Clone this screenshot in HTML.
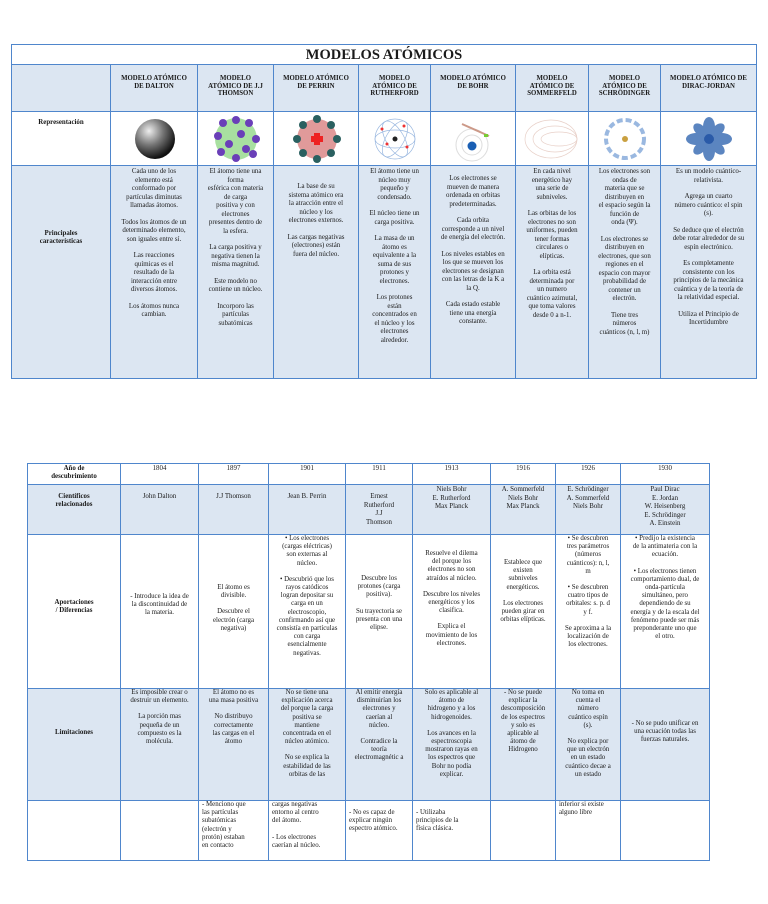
<!DOCTYPE html>
<html><head><meta charset="utf-8"><style>
body{margin:0;width:768px;height:904px;background:#fff;position:relative;overflow:hidden;font-family:"Liberation Serif",serif;color:#1a1a1a}
.c{position:absolute;box-sizing:border-box;border:1.5px solid #4f86cc;font-size:6.9px;line-height:8.5px;text-align:center;padding:2px 3px;overflow:hidden}
.b{background:#dce6f2}
.h{font-weight:bold;font-size:6.8px;line-height:7.6px;padding-top:10px}
p{margin:0 0 8px 0}
.s{line-height:8.2px}
</style></head><body>
<!-- TOP TABLE -->
<div class="c" style="left:11px;top:44px;width:746px;height:21px;font-size:14.5px;font-weight:bold;line-height:17px;">MODELOS ATÓMICOS</div>
<div class="c b" style="left:11px;top:64px;width:100px;height:48px"></div>
<div class="c b h" style="left:110px;top:64px;width:88px;height:48px">MODELO ATÓMICO<br>DE DALTON</div>
<div class="c b h" style="left:197px;top:64px;width:77px;height:48px">MODELO<br>ATÓMICO DE J.J<br>THOMSON</div>
<div class="c b h" style="left:273px;top:64px;width:86px;height:48px">MODELO ATÓMICO<br>DE PERRIN</div>
<div class="c b h" style="left:358px;top:64px;width:73px;height:48px">MODELO<br>ATÓMICO DE<br>RUTHERFORD</div>
<div class="c b h" style="left:430px;top:64px;width:86px;height:48px">MODELO ATÓMICO<br>DE BOHR</div>
<div class="c b h" style="left:515px;top:64px;width:74px;height:48px">MODELO<br>ATÓMICO DE<br>SOMMERFELD</div>
<div class="c b h" style="left:588px;top:64px;width:73px;height:48px">MODELO<br>ATÓMICO DE<br>SCHRÖDINGER</div>
<div class="c b h" style="left:660px;top:64px;width:97px;height:48px">MODELO ATÓMICO DE<br>DIRAC-JORDAN</div>

<div class="c" style="left:11px;top:111px;width:100px;height:55px;font-weight:bold;padding-top:7px">Representación</div>
<div class="c" style="left:110px;top:111px;width:88px;height:55px"><svg width="82" height="50"><defs><radialGradient id="g1" cx="35%" cy="30%" r="70%"><stop offset="0" stop-color="#eee"/><stop offset="0.5" stop-color="#777"/><stop offset="1" stop-color="#111"/></radialGradient></defs><circle cx="41" cy="25" r="20" fill="url(#g1)"/></svg></div>
<div class="c" style="left:197px;top:111px;width:77px;height:55px"><svg width="71" height="50"><circle cx="35" cy="25" r="21" fill="#a8e0a0"/><g fill="#6a3fb8"><circle cx="22" cy="9" r="4"/><circle cx="35" cy="6" r="4"/><circle cx="48" cy="9" r="4"/><circle cx="17" cy="22" r="4"/><circle cx="40" cy="20" r="4"/><circle cx="55" cy="25" r="4"/><circle cx="28" cy="30" r="4"/><circle cx="45" cy="35" r="4"/><circle cx="20" cy="38" r="4"/><circle cx="35" cy="44" r="4"/><circle cx="52" cy="40" r="4"/></g></svg></div>
<div class="c" style="left:273px;top:111px;width:86px;height:55px"><svg width="80" height="50"><circle cx="40" cy="25" r="20" fill="#e09a9a"/><rect x="37" y="19" width="6" height="12" fill="#e22"/><rect x="34" y="22" width="12" height="6" fill="#e22"/><g fill="#2a6060"><circle cx="40" cy="5" r="4"/><circle cx="54" cy="11" r="4"/><circle cx="60" cy="25" r="4"/><circle cx="54" cy="39" r="4"/><circle cx="40" cy="45" r="4"/><circle cx="26" cy="39" r="4"/><circle cx="20" cy="25" r="4"/><circle cx="26" cy="11" r="4"/></g></svg></div>
<div class="c" style="left:358px;top:111px;width:73px;height:55px"><svg width="67" height="50"><g fill="none" stroke="#9ab8e0" stroke-width="0.7"><ellipse cx="33" cy="25" rx="20" ry="9"/><ellipse cx="33" cy="25" rx="20" ry="9" transform="rotate(60 33 25)"/><ellipse cx="33" cy="25" rx="20" ry="9" transform="rotate(-60 33 25)"/><circle cx="33" cy="25" r="20"/></g><circle cx="33" cy="25" r="2.5" fill="#222"/><g fill="#e33"><circle cx="20" cy="15" r="1.5"/><circle cx="25" cy="30" r="1.5"/><circle cx="45" cy="33" r="1.5"/><circle cx="42" cy="12" r="1.5"/></g></svg></div>
<div class="c" style="left:430px;top:111px;width:86px;height:55px"><svg width="80" height="50"><g fill="none" stroke="#ddd"><circle cx="38" cy="31" r="10"/><circle cx="38" cy="31" r="16"/></g><line x1="28" y1="10" x2="55" y2="22" stroke="#c98" stroke-width="2"/><circle cx="38" cy="32" r="4.5" fill="#1a5fb4"/><rect x="50" y="20" width="4" height="3" fill="#7c3"/></svg></div>
<div class="c" style="left:515px;top:111px;width:74px;height:55px"><svg width="68" height="50"><g fill="none" stroke="#e8d0c8" stroke-width="0.7"><ellipse cx="32" cy="25" rx="26" ry="19"/><ellipse cx="36" cy="25" rx="22" ry="13"/><ellipse cx="40" cy="25" rx="18" ry="7"/></g></svg></div>
<div class="c" style="left:588px;top:111px;width:73px;height:55px"><svg width="67" height="50"><circle cx="33" cy="25" r="19" fill="none" stroke="#9ab8e0" stroke-width="4" stroke-dasharray="6 3"/><circle cx="33" cy="25" r="3" fill="#c9a040"/></svg></div>
<div class="c" style="left:660px;top:111px;width:97px;height:55px"><svg width="91" height="50"><g fill="#5b85c0"><ellipse cx="45" cy="13" rx="6" ry="10"/><ellipse cx="45" cy="37" rx="6" ry="10"/><ellipse cx="32" cy="25" rx="10" ry="6"/><ellipse cx="58" cy="25" rx="10" ry="6"/><ellipse cx="36" cy="16" rx="5" ry="8" transform="rotate(-45 36 16)"/><ellipse cx="54" cy="34" rx="5" ry="8" transform="rotate(-45 54 34)"/><ellipse cx="54" cy="16" rx="5" ry="8" transform="rotate(45 54 16)"/><ellipse cx="36" cy="34" rx="5" ry="8" transform="rotate(45 36 34)"/></g><circle cx="45" cy="25" r="5" fill="#2a5aa8"/></svg></div>

<div class="c b" style="left:11px;top:165px;width:100px;height:214px;font-weight:bold;padding-top:64px;line-height:8px">Principales<br>características</div>
<div class="c b" style="left:110px;top:165px;width:88px;height:214px"><p>Cada uno de los<br>elemento está<br>conformado por<br>partículas diminutas<br>llamadas átomos.</p><p>Todos los átomos de un<br>determinado elemento,<br>son iguales entre sí.</p><p>Las reacciones<br>químicas es el<br>resultado de la<br>interacción entre<br>diversos átomos.</p><p>Los átomos nunca<br>cambian.</p></div>
<div class="c b" style="left:197px;top:165px;width:77px;height:214px"><p>El átomo tiene una<br>forma<br>esférica con materia<br>de carga<br>positiva y con<br>electrones<br>presentes dentro de<br>la esfera.</p><p>La carga positiva y<br>negativa tienen la<br>misma magnitud.</p><p>Este modelo no<br>contiene un núcleo.</p><p>Incorporo las<br>partículas<br>subatómicas</p></div>
<div class="c b" style="left:273px;top:165px;width:86px;height:214px;padding-top:17px"><p>La base de su<br>sistema atómico era<br>la atracción entre el<br>núcleo y los<br>electrones externos.</p><p>Las cargas negativas<br>(electrones) están<br>fuera del núcleo.</p></div>
<div class="c b" style="left:358px;top:165px;width:73px;height:214px"><p>El átomo tiene un<br>núcleo muy<br>pequeño y<br>condensado.</p><p>El núcleo tiene un<br>carga positiva.</p><p>La masa de un<br>átomo es<br>equivalente a la<br>suma de sus<br>protones y<br>electrones.</p><p>Los protones<br>están<br>concentrados en<br>el núcleo y los<br>electrones<br>alrededor.</p></div>
<div class="c b" style="left:430px;top:165px;width:86px;height:214px;padding-top:9px"><p>Los electrones se<br>mueven de manera<br>ordenada en orbitas<br>predeterminadas.</p><p>Cada orbita<br>corresponde a un nivel<br>de energía del electrón.</p><p>Los niveles estables en<br>los que se mueven los<br>electrones se designan<br>con las letras de la K a<br>la Q.</p><p>Cada estado estable<br>tiene una energía<br>constante.</p></div>
<div class="c b" style="left:515px;top:165px;width:74px;height:214px"><p>En cada nivel<br>energético hay<br>una serie de<br>subniveles.</p><p>Las orbitas de los<br>electrones no son<br>uniformes, pueden<br>tener formas<br>circulares o<br>elípticas.</p><p>La orbita está<br>determinada por<br>un numero<br>cuántico azimutal,<br>que toma valores<br>desde 0 a n-1.</p></div>
<div class="c b" style="left:588px;top:165px;width:73px;height:214px"><p>Los electrones son<br>ondas de<br>materia que se<br>distribuyen en<br>el espacio según la<br>función de<br>onda (Ψ).</p><p>Los electrones se<br>distribuyen en<br>electrones, que son<br>regiones en el<br>espacio con mayor<br>probabilidad de<br>contener un<br>electrón.</p><p>Tiene tres<br>números<br>cuánticos (n, l, m)</p></div>
<div class="c b" style="left:660px;top:165px;width:97px;height:214px"><p>Es un modelo cuántico-<br>relativista.</p><p>Agrega un cuarto<br>número cuántico: el spin<br>(s).</p><p>Se deduce que el electrón<br>debe rotar alrededor de su<br>espín electrónico.</p><p>Es completamente<br>consistente con los<br>principios de la mecánica<br>cuántica y de la teoría de<br>la relatividad especial.</p><p>Utiliza el Principio de<br>Incertidumbre</p></div>

<!-- BOTTOM TABLE -->
<div class="c" style="left:27px;top:463px;width:94px;height:22px;font-weight:bold;padding-top:1px;line-height:7.5px">Año de<br>descubrimiento</div>
<div class="c" style="left:120px;top:463px;width:79px;height:22px;padding-top:1px">1804</div>
<div class="c" style="left:198px;top:463px;width:71px;height:22px;padding-top:1px">1897</div>
<div class="c" style="left:268px;top:463px;width:78px;height:22px;padding-top:1px">1901</div>
<div class="c" style="left:345px;top:463px;width:68px;height:22px;padding-top:1px">1911</div>
<div class="c" style="left:412px;top:463px;width:79px;height:22px;padding-top:1px">1913</div>
<div class="c" style="left:490px;top:463px;width:66px;height:22px;padding-top:1px">1916</div>
<div class="c" style="left:555px;top:463px;width:66px;height:22px;padding-top:1px">1926</div>
<div class="c" style="left:620px;top:463px;width:90px;height:22px;padding-top:1px">1930</div>

<div class="c b" style="left:27px;top:484px;width:94px;height:51px;font-weight:bold;padding-top:8px;line-height:7.5px">Científicos<br>relacionados</div>
<div class="c b" style="left:120px;top:484px;width:79px;height:51px;padding-top:8px">John Dalton</div>
<div class="c b" style="left:198px;top:484px;width:71px;height:51px;padding-top:8px">J.J Thomson</div>
<div class="c b" style="left:268px;top:484px;width:78px;height:51px;padding-top:8px">Jean B. Perrin</div>
<div class="c b" style="left:345px;top:484px;width:68px;height:51px;padding-top:8px">Ernest<br>Rutherford<br>J.J<br>Thomson</div>
<div class="c b" style="left:412px;top:484px;width:79px;height:51px;padding-top:1px">Niels Bohr<br>E. Rutherford<br>Max Planck</div>
<div class="c b" style="left:490px;top:484px;width:66px;height:51px;padding-top:1px">A. Sommerfeld<br>Niels Bohr<br>Max Planck</div>
<div class="c b" style="left:555px;top:484px;width:66px;height:51px;padding-top:1px">E. Schrödinger<br>A. Sommerfeld<br>Niels Bohr</div>
<div class="c b" style="left:620px;top:484px;width:90px;height:51px;padding-top:1px">Paul Dirac<br>E. Jordan<br>W. Heisenberg<br>E. Schrödinger<br>A. Einstein</div>

<div class="c s" style="left:27px;top:534px;width:94px;height:155px;font-weight:bold;padding-top:64px">Aportaciones<br>/ Diferencias</div>
<div class="c s" style="left:120px;top:534px;width:79px;height:155px;padding-top:58px">- Introduce la idea de<br>la discontinuidad de<br>la materia.</div>
<div class="c s" style="left:198px;top:534px;width:71px;height:155px;padding-top:49px"><p>El átomo es<br>divisible.</p><p>Descubre el<br>electrón (carga<br>negativa)</p></div>
<div class="c s" style="left:268px;top:534px;width:78px;height:155px;padding-top:0"><p>• Los electrones<br>(cargas eléctricas)<br>son externas al<br>núcleo.</p><p>• Descubrió que los<br>rayos catódicos<br>logran depositar su<br>carga en un<br>electroscopio,<br>confirmando así que<br>consistía en partículas<br>con carga<br>esencialmente<br>negativas.</p></div>
<div class="c s" style="left:345px;top:534px;width:68px;height:155px;padding-top:40px"><p>Descubre los<br>protones (carga<br>positiva).</p><p>Su trayectoria se<br>presenta con una<br>elipse.</p></div>
<div class="c s" style="left:412px;top:534px;width:79px;height:155px;padding-top:15px"><p>Resuelve el dilema<br>del porque los<br>electrones no son<br>atraídos al núcleo.</p><p>Descubre los niveles<br>energéticos y los<br>clasifica.</p><p>Explica el<br>movimiento de los<br>electrones.</p></div>
<div class="c s" style="left:490px;top:534px;width:66px;height:155px;padding-top:24px"><p>Establece que<br>existen<br>subniveles<br>energéticos.</p><p>Los electrones<br>pueden girar en<br>orbitas elípticas.</p></div>
<div class="c s" style="left:555px;top:534px;width:66px;height:155px;padding-top:0"><p>• Se descubren<br>tres parámetros<br>(números<br>cuánticos): n, l,<br>m</p><p>• Se descubren<br>cuatro tipos de<br>orbitales: s. p. d<br>y f.</p><p>Se aproxima a la<br>localización de<br>los electrones.</p></div>
<div class="c s" style="left:620px;top:534px;width:90px;height:155px;padding-top:0"><p>• Predijo la existencia<br>de la antimateria con la<br>ecuación.</p><p>• Los electrones tienen<br>comportamiento dual, de<br>onda-partícula<br>simultáneo, pero<br>dependiendo de su<br>energía y de la escala del<br>fenómeno puede ser más<br>preponderante uno que<br>el otro.</p></div>

<div class="c b s" style="left:27px;top:688px;width:94px;height:113px;font-weight:bold;padding-top:40px">Limitaciones</div>
<div class="c b s" style="left:120px;top:688px;width:79px;height:113px;padding-top:0"><p>Es imposible crear o<br>destruir un elemento.</p><p>La porción mas<br>pequeña de un<br>compuesto es la<br>molécula.</p></div>
<div class="c b s" style="left:198px;top:688px;width:71px;height:113px;padding-top:0"><p>El átomo no es<br>una masa positiva</p><p>No distribuyo<br>correctamente<br>las cargas en el<br>átomo</p></div>
<div class="c b s" style="left:268px;top:688px;width:78px;height:113px;padding-top:0"><p>No se tiene una<br>explicación acerca<br>del porque la carga<br>positiva se<br>mantiene<br>concentrada en el<br>núcleo atómico.</p><p>No se explica la<br>estabilidad de las<br>orbitas de las</p></div>
<div class="c b s" style="left:345px;top:688px;width:68px;height:113px;padding-top:0"><p>Al emitir energía<br>disminuirían los<br>electrones y<br>caerían al<br>núcleo.</p><p>Contradice la<br>teoría<br>electromagnétic a</p></div>
<div class="c b s" style="left:412px;top:688px;width:79px;height:113px;padding-top:0"><p>Solo es aplicable al<br>átomo de<br>hidrogeno y a los<br>hidrogenoides.</p><p>Los avances en la<br>espectroscopia<br>mostraron rayas en<br>los espectros que<br>Bohr no podía<br>explicar.</p></div>
<div class="c b s" style="left:490px;top:688px;width:66px;height:113px;padding-top:0">- No se puede<br>explicar la<br>descomposición<br>de los espectros<br>y solo es<br>aplicable al<br>átomo de<br>Hidrogeno</div>
<div class="c b s" style="left:555px;top:688px;width:66px;height:113px;padding-top:0"><p>No toma en<br>cuenta el<br>número<br>cuántico espín<br>(s).</p><p>No explica por<br>que un electrón<br>en un estado<br>cuántico decae a<br>un estado</p></div>
<div class="c b s" style="left:620px;top:688px;width:90px;height:113px;padding-top:31px">- No se pudo unificar en<br>una ecuación todas las<br>fuerzas naturales.</div>

<div class="c s" style="left:27px;top:800px;width:94px;height:61px"></div>
<div class="c s" style="left:120px;top:800px;width:79px;height:61px"></div>
<div class="c s" style="left:198px;top:800px;width:71px;height:61px;text-align:left;padding-top:0">- Menciono que<br>las partículas<br>subatómicas<br>(electrón y<br>protón) estaban<br>en contacto</div>
<div class="c s" style="left:268px;top:800px;width:78px;height:61px;text-align:left;padding-top:0"><p>cargas negativas<br>entorno al centro<br>del átomo.</p><p>- Los electrones<br>caerían al núcleo.</p></div>
<div class="c s" style="left:345px;top:800px;width:68px;height:61px;text-align:left;padding-top:8px">- No es capaz de<br>explicar ningún<br>espectro atómico.</div>
<div class="c s" style="left:412px;top:800px;width:79px;height:61px;text-align:left;padding-top:8px">- Utilizaba<br>principios de la<br>física clásica.</div>
<div class="c s" style="left:490px;top:800px;width:66px;height:61px"></div>
<div class="c s" style="left:555px;top:800px;width:66px;height:61px;text-align:left;padding-top:0">inferior si existe<br>alguno libre</div>
<div class="c s" style="left:620px;top:800px;width:90px;height:61px"></div>
</body></html>
